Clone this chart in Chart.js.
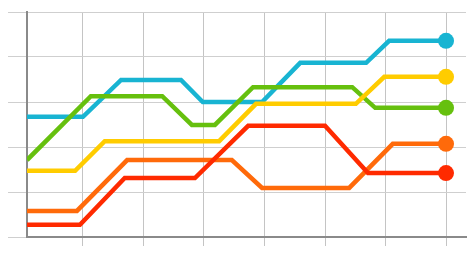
<!DOCTYPE html>
<html>
<head>
<meta charset="utf-8">
<script src="https://cdn.jsdelivr.net/npm/chart.js@4/dist/chart.umd.min.js"></script>
<style>
  html, body { margin: 0; padding: 0; background: #fff; }
  #wrap { width: 474px; height: 258px; }
</style>
</head>
<body>
<div id="wrap"><canvas id="chart"></canvas></div>
<script>
// x positions in grid columns (gridlines at 1..7), y in grid rows (0..5)
const xTicks = [1, 2, 3, 4, 5, 6, 7];

const redX    = [0.075, 0.95, 1.69, 2.85, 3.73, 5.0, 5.71, 7];
const redY    = [0.27, 0.27, 1.31, 1.31, 2.47, 2.47, 1.42, 1.42];

const orangeX = [0.075, 0.90, 1.73, 3.46, 3.96, 5.40, 6.12, 7];
const orangeY = [0.58, 0.58, 1.71, 1.71, 1.09, 1.09, 2.07, 2.07];

const yellowX = [0.075, 0.87, 1.36, 3.25, 3.86, 5.51, 5.98, 7];
const yellowY = [1.47, 1.47, 2.13, 2.13, 2.96, 2.96, 3.56, 3.56];

const greenX  = [0.075, 1.13, 2.31, 2.80, 3.18, 3.81, 5.45, 5.83, 7];
const greenY  = [1.71, 3.13, 3.13, 2.49, 2.49, 3.33, 3.33, 2.87, 2.87];

const cyanX   = [0.075, 1.0, 1.63, 2.62, 2.98, 3.96, 4.59, 5.68, 6.06, 7];
const cyanY   = [2.67, 2.67, 3.49, 3.49, 3.0, 3.0, 3.87, 3.87, 4.36, 4.36];

function points(xs, ys) {
  return xs.map((x, i) => ({ x: x, y: ys[i] }));
}

function series(xs, ys, color) {
  return {
    data: points(xs, ys),
    borderColor: color,
    backgroundColor: color,
    borderWidth: 4.5,
    tension: 0,
    fill: false,
    // only the last point gets a dot
    pointRadius: ctx => ctx.dataIndex === xs.length - 1 ? 8 : 0,
    pointBorderWidth: 0,
    pointHoverRadius: 0
  };
}

new Chart(document.getElementById('chart'), {
  type: 'line',
  data: {
    datasets: [
      series(redX, redY, '#ff2a00'),
      series(orangeX, orangeY, '#ff6a0a'),
      series(yellowX, yellowY, '#ffcc00'),
      series(greenX, greenY, '#66c00e'),
      series(cyanX, cyanY, '#18b4d2')
    ]
  },
  options: {
    responsive: true,
    maintainAspectRatio: false,
    animation: false,
    layout: { padding: { left: 8, top: 12, right: 8, bottom: 12 } },
    plugins: {
      legend: { display: false },
      tooltip: { enabled: false }
    },
    scales: {
      x: {
        type: 'linear',
        min: 0.075,
        max: 7.33,
        afterBuildTicks: axis => {
          axis.ticks = xTicks.map(v => ({ value: v }));
        },
        ticks: { display: false },
        grid: { color: '#c4c4c4', lineWidth: 1, tickLength: 9 },
        border: { color: '#8a8a8a', width: 2 }
      },
      y: {
        min: 0,
        max: 5,
        ticks: { display: false, stepSize: 1 },
        grid: { color: '#cfcfcf', lineWidth: 1, tickLength: 19 },
        border: { color: '#8a8a8a', width: 2 }
      }
    }
  }
});
</script>
</body>
</html>
